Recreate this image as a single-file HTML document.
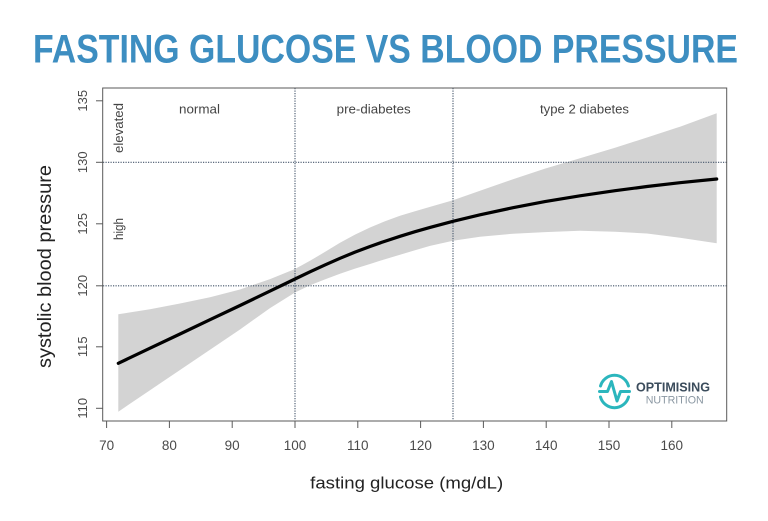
<!DOCTYPE html>
<html>
<head>
<meta charset="utf-8">
<style>
  html, body { margin: 0; padding: 0; background: #ffffff; }
  svg { display: block; }
  text { font-family: "Liberation Sans", "DejaVu Sans", sans-serif; }
</style>
</head>
<body>
<svg width="768" height="521" viewBox="0 0 768 521" xmlns="http://www.w3.org/2000/svg">
  <rect x="0" y="0" width="768" height="521" fill="#ffffff"/>

  <!-- Title -->
  <text x="33" y="62.7" font-size="39.5" font-weight="bold" fill="#3d8ec1" textLength="705" lengthAdjust="spacingAndGlyphs">FASTING GLUCOSE VS BLOOD PRESSURE</text>

  <!-- Confidence band -->
  <path d="M118.3,314.3 L150,309.2 L180,303.5 L210,297.2 L240,289.5 L270,279.1 L295,269 L310,260.8 L325,251.9 L340,242.8 L355,234.65 L370,227.45 L385,221.2 L400,215.8 L415,211.2 L430,206.9 L453,200.3 L480,190.8 L513,179.2 L545,168.6 L580,158.3 L615,147.7 L647,137.5 L680,126.7 L716.7,113.3
           L716.7,243.3 L680,237.7 L647,233.5 L615,231.7 L580,230.8 L545,232.1 L513,233.7 L480,236.8 L453,240.8 L430,245.9 L415,250.2 L400,254.8 L385,259.2 L370,263.95 L355,268.65 L340,273.8 L325,279.4 L310,285.3 L295,292.5 L270,308.1 L240,329.5 L210,349.7 L180,370 L150,390.2 L118.3,411.7 Z"
        fill="#d3d3d3" stroke="none"/>

  <!-- Dotted reference lines -->
  <g stroke="#45566b" stroke-width="1.1" stroke-dasharray="1.2 1.3" fill="none">
    <line x1="103" y1="162.3" x2="726.7" y2="162.3"/>
    <line x1="103" y1="285.8" x2="726.7" y2="285.8"/>
    <line x1="295" y1="88" x2="295" y2="421"/>
    <line x1="453" y1="88" x2="453" y2="421"/>
  </g>

  <!-- Fit line -->
  <polyline points="118.3,363.3 150,348.2 180,334 210,319.7 240,305.5 270,291.1 295,279 310,271.8 325,264.9 340,258.3 355,252.15 370,246.45 385,241.2 400,236.3 415,231.7 430,227.4 453,221.3 480,214.8 513,207.7 545,201.6 580,195.8 615,190.7 647,186.5 680,182.7 716.7,179"
            fill="none" stroke="#000000" stroke-width="3.2" stroke-linejoin="round" stroke-linecap="round"/>

  <!-- Plot box -->
  <rect x="102.7" y="88" width="624" height="333" fill="none" stroke="#5a5a5a" stroke-width="1"/>

  <!-- X ticks -->
  <g stroke="#5a5a5a" stroke-width="1">
    <line x1="106.6" y1="421" x2="106.6" y2="428"/>
    <line x1="169.4" y1="421" x2="169.4" y2="428"/>
    <line x1="232.2" y1="421" x2="232.2" y2="428"/>
    <line x1="295" y1="421" x2="295" y2="428"/>
    <line x1="357.8" y1="421" x2="357.8" y2="428"/>
    <line x1="420.6" y1="421" x2="420.6" y2="428"/>
    <line x1="483.4" y1="421" x2="483.4" y2="428"/>
    <line x1="546.2" y1="421" x2="546.2" y2="428"/>
    <line x1="609" y1="421" x2="609" y2="428"/>
    <line x1="671.8" y1="421" x2="671.8" y2="428"/>
  </g>
  <g font-size="13.5" fill="#4a4a4a" text-anchor="middle">
    <text x="106.6" y="450">70</text>
    <text x="169.4" y="450">80</text>
    <text x="232.2" y="450">90</text>
    <text x="295" y="450">100</text>
    <text x="357.8" y="450">110</text>
    <text x="420.6" y="450">120</text>
    <text x="483.4" y="450">130</text>
    <text x="546.2" y="450">140</text>
    <text x="609" y="450">150</text>
    <text x="671.8" y="450">160</text>
  </g>

  <!-- Y ticks -->
  <g stroke="#5a5a5a" stroke-width="1">
    <line x1="96" y1="100.8" x2="102.7" y2="100.8"/>
    <line x1="96" y1="162.3" x2="102.7" y2="162.3"/>
    <line x1="96" y1="223.8" x2="102.7" y2="223.8"/>
    <line x1="96" y1="285.8" x2="102.7" y2="285.8"/>
    <line x1="96" y1="346.8" x2="102.7" y2="346.8"/>
    <line x1="96" y1="408.3" x2="102.7" y2="408.3"/>
  </g>
  <g font-size="13" fill="#4a4a4a" text-anchor="middle">
    <text transform="translate(87,100.8) rotate(-90)">135</text>
    <text transform="translate(87,162.3) rotate(-90)">130</text>
    <text transform="translate(87,223.8) rotate(-90)">125</text>
    <text transform="translate(87,285.8) rotate(-90)">120</text>
    <text transform="translate(87,346.8) rotate(-90)">115</text>
    <text transform="translate(87,408.3) rotate(-90)">110</text>
  </g>

  <!-- Axis titles -->
  <text x="406.7" y="488.3" font-size="17" fill="#222222" text-anchor="middle" textLength="193" lengthAdjust="spacingAndGlyphs">fasting glucose (mg/dL)</text>
  <text transform="translate(51,266.5) rotate(-90)" font-size="19.5" fill="#222222" text-anchor="middle" textLength="203" lengthAdjust="spacingAndGlyphs">systolic blood pressure</text>

  <!-- Region labels -->
  <g font-size="13" fill="#444444" text-anchor="middle">
    <text x="199.5" y="113.3" textLength="41" lengthAdjust="spacingAndGlyphs">normal</text>
    <text x="373.7" y="113.3" textLength="74" lengthAdjust="spacingAndGlyphs">pre-diabetes</text>
    <text x="584.5" y="113.3" textLength="89" lengthAdjust="spacingAndGlyphs">type 2 diabetes</text>
    <text transform="translate(123,128) rotate(-90)" textLength="50" lengthAdjust="spacingAndGlyphs">elevated</text>
    <text transform="translate(123,229) rotate(-90)" textLength="22" lengthAdjust="spacingAndGlyphs">high</text>
  </g>

  <!-- Logo -->
  <g fill="none" stroke="#2bb6bd" stroke-width="3" stroke-linecap="round" stroke-linejoin="round">
    <path d="M600.5,386 A14.5,14.5 0 0 1 628.5,386"/>
    <path d="M628.5,397 A14.5,14.5 0 0 1 600.5,397"/>
    <path d="M599.5,391.5 L607.5,391.5 L611.5,381.5 L617,401 L620.5,391.5 L629.5,391.5"/>
  </g>
  <text x="636" y="391.7" font-size="13" font-weight="bold" fill="#3b4c5c" textLength="74" lengthAdjust="spacingAndGlyphs">OPTIMISING</text>
  <text x="645.7" y="403.3" font-size="11" fill="#8a97a2" textLength="58" lengthAdjust="spacingAndGlyphs">NUTRITION</text>
</svg>
</body>
</html>
